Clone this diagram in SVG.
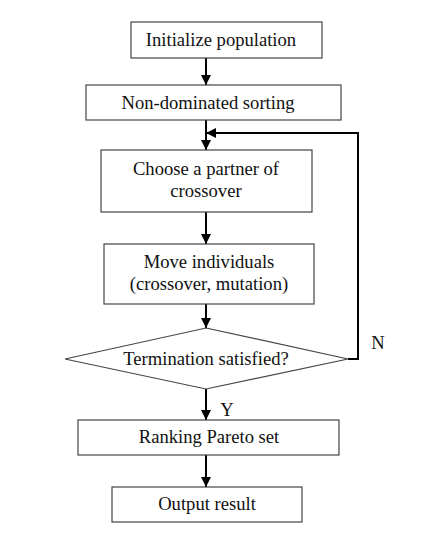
<svg xmlns="http://www.w3.org/2000/svg" width="422" height="546" viewBox="0 0 422 546">
<style>
.box{fill:#fff;stroke:#444;stroke-width:1.2}
.t{font-family:"Liberation Serif","Times New Roman",serif;font-size:18.6px;fill:#111;text-anchor:middle}
.c{fill:none;stroke:#000;stroke-width:2}
</style>
<defs>
<marker id="ah" viewBox="0 0 10 10" refX="10" refY="5" markerWidth="5" markerHeight="5" orient="auto" markerUnits="strokeWidth">
<path d="M0,0 L10,5 L0,10 Z" fill="#000"/>
</marker>
</defs>
<rect width="422" height="546" fill="#fff"/>
<g id="connectors">
<line class="c" x1="206" y1="58" x2="206" y2="85" marker-end="url(#ah)"/>
<line class="c" x1="206" y1="120" x2="206" y2="150" marker-end="url(#ah)"/>
<polyline class="c" points="348,359 358,359 358,133 206,133" marker-end="url(#ah)"/>
<line class="c" x1="206" y1="212" x2="206" y2="244" marker-end="url(#ah)"/>
<line class="c" x1="206" y1="304" x2="206" y2="328" marker-end="url(#ah)"/>
<line class="c" x1="206" y1="389" x2="206" y2="420" marker-end="url(#ah)"/>
<line class="c" x1="206" y1="455" x2="206" y2="487" marker-end="url(#ah)"/>
<text class="t" x="378" y="349">N</text>
<text class="t" x="227" y="416">Y</text>
</g>
<g id="n1"><rect class="box" x="131" y="22" width="191" height="36"/><text class="t" x="221" y="46">Initialize population</text></g>
<g id="n2"><rect class="box" x="86" y="85" width="255" height="35"/><text class="t" x="208" y="109">Non-dominated sorting</text></g>
<g id="n3"><rect class="box" x="101" y="150" width="211" height="62"/><text class="t" x="206" y="175">Choose a partner  of</text><text class="t" x="206" y="197">crossover</text></g>
<g id="n4"><rect class="box" x="104" y="244" width="210" height="60"/><text class="t" x="209" y="268">Move individuals</text><text class="t" x="209" y="290">(crossover, mutation)</text></g>
<g id="n5"><polygon class="box" points="206,328 348,359 206,389 65,359"/><text class="t" x="206" y="365">Termination satisfied?</text></g>
<g id="n6"><rect class="box" x="78" y="420" width="261" height="35"/><text class="t" x="209" y="443">Ranking Pareto set</text></g>
<g id="n7"><rect class="box" x="112" y="487" width="190" height="35"/><text class="t" x="207" y="510">Output result</text></g>
</svg>
